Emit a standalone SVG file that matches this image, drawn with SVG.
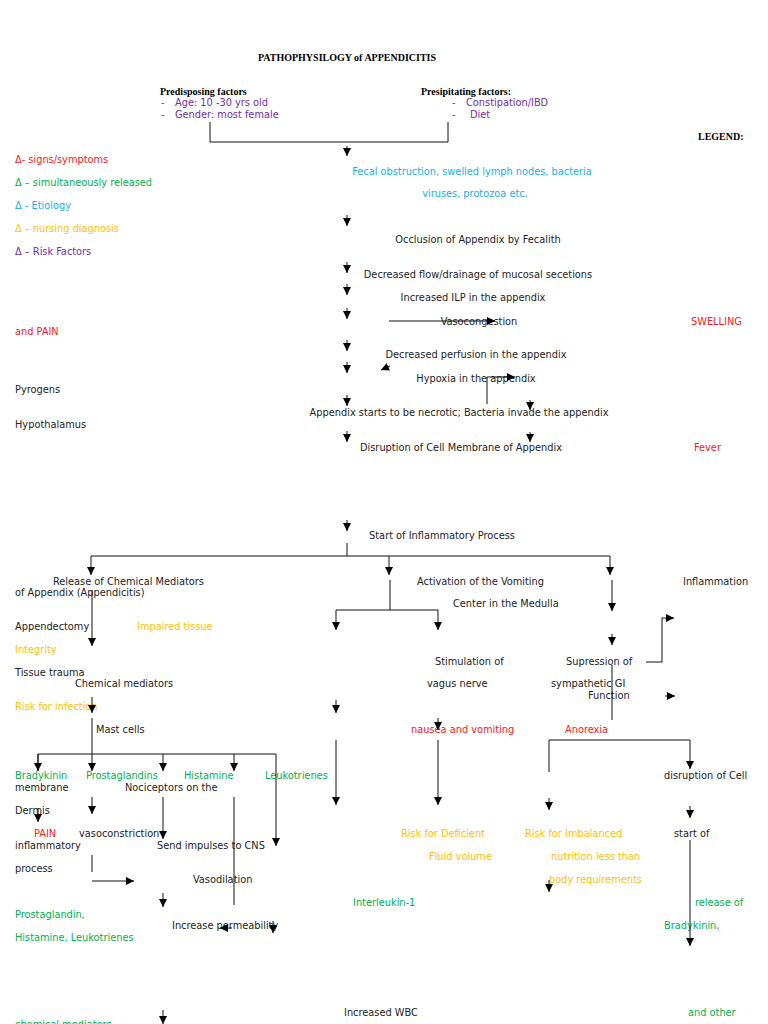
<svg xmlns="http://www.w3.org/2000/svg" width="768" height="1024" viewBox="0 0 768 1024">
<style>
text{font-family:"DejaVu Sans Condensed","DejaVu Sans",sans-serif;font-size:10.9px;fill:#222}
.t{font-family:"Liberation Serif",serif;font-weight:bold;font-size:10px;fill:#000}
.r{fill:#ee2222}.g{fill:#00b050}.b{fill:#1aaee8}.y{fill:#ffc000}.p{fill:#7030a0}
.m{text-anchor:middle}
line,path.c{stroke:#111;stroke-width:1;fill:none}
</style>
<defs><marker id="a" viewBox="0 0 10 10" refX="10" refY="5" markerWidth="8" markerHeight="9" markerUnits="userSpaceOnUse" orient="auto"><path d="M0,0L10,5L0,10z" fill="#000"/></marker></defs>
<g id="header">
<text class="t m" x="347" y="61">PATHOPHYSILOGY of APPENDICITIS</text>
<text class="t" x="160" y="95">Predisposing factors</text>
<text class="p" x="161" y="106">-</text><text class="p" x="175" y="106">Age: 10 -30 yrs old</text>
<text class="p" x="161" y="118">-</text><text class="p" x="175" y="118">Gender: most female</text>
<text class="t" x="421" y="95">Presipitating factors:</text>
<text class="p" x="452" y="106">-</text><text class="p" x="466" y="106">Constipation/IBD</text>
<text class="p" x="452" y="118">-</text><text class="p" x="470" y="118">Diet</text>
<text class="t" x="698" y="140">LEGEND:</text>
</g>
<g id="legend">
<text class="r" x="15" y="163">Δ- signs/symptoms</text>
<text class="g" x="15" y="186">Δ – simultaneously released</text>
<text class="b" x="15" y="209">Δ - Etiology</text>
<text class="y" x="15" y="232">Δ – nursing diagnosis</text>
<text class="p" x="15" y="255">Δ – Risk Factors</text>
</g>
<g id="nodes">
<text class="b m" x="472" y="175">Fecal obstruction, swelled lymph nodes, bacteria</text>
<text class="b m" x="475" y="197">viruses, protozoa etc.</text>
<text class="m" x="478" y="243">Occlusion of Appendix by Fecalith</text>
<text class="m" x="478" y="278">Decreased flow/drainage of mucosal secetions</text>
<text class="m" x="473" y="301">Increased ILP in the appendix</text>
<text class="m" x="479" y="325">Vasocongestion</text>
<text class="r" x="691" y="325">SWELLING</text>
<text class="r" x="15" y="335">and PAIN</text>
<text class="m" x="476" y="358">Decreased perfusion in the appendix</text>
<text class="m" x="476" y="382">Hypoxia in the appendix</text>
<text x="15" y="393">Pyrogens</text>
<text class="m" x="459" y="416">Appendix starts to be necrotic; Bacteria invade the appendix</text>
<text x="15" y="428">Hypothalamus</text>
<text class="m" x="461" y="451">Disruption of Cell Membrane of Appendix</text>
<text class="r" x="694" y="451">Fever</text>
<text class="m" x="442" y="539">Start of Inflammatory Process</text>
<text x="53" y="585">Release of Chemical Mediators</text>
<text x="15" y="596">of Appendix (Appendicitis)</text>
<text x="417" y="585">Activation of the Vomiting</text>
<text x="453" y="607">Center in the Medulla</text>
<text x="683" y="585">Inflammation</text>
<text x="15" y="630">Appendectomy</text>
<text class="y" x="137" y="630">Impaired tissue</text>
<text class="y" x="15" y="653">Integrity</text>
<text x="435" y="665">Stimulation of</text>
<text x="566" y="665">Supression of</text>
<text x="15" y="676">Tissue trauma</text>
<text x="75" y="687">Chemical mediators</text>
<text x="427" y="687">vagus nerve</text>
<text x="551" y="687">sympathetic GI</text>
<text x="588" y="699">Function</text>
<text class="y" x="15" y="710">Risk for infection</text>
<text x="96" y="733">Mast cells</text>
<text class="r" x="411" y="733">nausea and vomiting</text>
<text class="r" x="565" y="733">Anorexia</text>
<text class="g" x="15" y="779">Bradykinin</text>
<text class="g" x="86" y="779">Prostaglandins</text>
<text class="g" x="184" y="779">Histamine</text>
<text class="g" x="265" y="779">Leukotrienes</text>
<text x="664" y="779">disruption of Cell</text>
<text x="15" y="791">membrane</text>
<text x="125" y="791">Nociceptors on the</text>
<text x="15" y="814">Dermis</text>
<text class="r" x="34" y="837">PAIN</text>
<text x="79" y="837">vasoconstriction</text>
<text class="y" x="401" y="837">Risk for Deficient</text>
<text class="y" x="525" y="837">Risk for Imbalanced</text>
<text x="674" y="837">start of</text>
<text x="15" y="849">inflammatory</text>
<text x="157" y="849">Send impulses to CNS</text>
<text class="y" x="429" y="860">Fluid volume</text>
<text class="y" x="551" y="860">nutrition less than</text>
<text x="15" y="872">process</text>
<text x="193" y="883">Vasodilation</text>
<text class="y" x="549" y="883">body requirements</text>
<text class="g" x="353" y="906">Interleukin-1</text>
<text class="g" x="695" y="906">release of</text>
<text class="g" x="15" y="918">Prostaglandin,</text>
<text x="172" y="929">Increase permeability</text>
<text class="g" x="664" y="929">Bradykinin,</text>
<text class="g" x="15" y="941">Histamine, Leukotrienes</text>
<text x="344" y="1016">Increased WBC</text>
<text class="g" x="688" y="1016">and other</text>
<text class="g" x="15" y="1028">chemical mediators</text>
</g>
<g id="connectors">
<path class="c" d="M210,122V142H448V122"/>
<line x1="347" y1="146" x2="347" y2="156" marker-end="url(#a)"/>
<line x1="347" y1="215" x2="347" y2="226" marker-end="url(#a)"/>
<line x1="347" y1="262" x2="347" y2="273" marker-end="url(#a)"/>
<line x1="347" y1="284" x2="347" y2="295" marker-end="url(#a)"/>
<line x1="347" y1="308" x2="347" y2="319" marker-end="url(#a)"/>
<line x1="347" y1="340" x2="347" y2="351" marker-end="url(#a)"/>
<line x1="347" y1="362" x2="347" y2="373" marker-end="url(#a)"/>
<line x1="347" y1="395" x2="347" y2="406" marker-end="url(#a)"/>
<line x1="347" y1="431" x2="347" y2="442" marker-end="url(#a)"/>
<line x1="389" y1="321" x2="495" y2="321" marker-end="url(#a)"/>
<line x1="390" y1="366" x2="381" y2="370" marker-end="url(#a)"/>
<path class="c" d="M487,404V377H515" marker-end="url(#a)"/>
<line x1="530" y1="400" x2="530" y2="410" marker-end="url(#a)"/>
<line x1="530" y1="432" x2="530" y2="442" marker-end="url(#a)"/>
<line x1="347" y1="520" x2="347" y2="531" marker-end="url(#a)"/>
<path class="c" d="M347,543V556"/>
<path class="c" d="M91,556H610V575" marker-end="url(#a)"/>
<path class="c" d="M91,556V575" marker-end="url(#a)"/>
<line x1="389" y1="556" x2="389" y2="575" marker-end="url(#a)"/>
<line x1="92" y1="590" x2="92" y2="646" marker-end="url(#a)"/>
<path class="c" d="M390,580V610H336V630" marker-end="url(#a)"/>
<path class="c" d="M390,610H438V630" marker-end="url(#a)"/>
<line x1="612" y1="580" x2="612" y2="611" marker-end="url(#a)"/>
<line x1="612" y1="634" x2="612" y2="645" marker-end="url(#a)"/>
<path class="c" d="M646,662H662V618H674" marker-end="url(#a)"/>
<path class="c" d="M612,665V720"/>
<line x1="665" y1="696" x2="675" y2="696" marker-end="url(#a)"/>
<line x1="92" y1="697" x2="92" y2="713" marker-end="url(#a)"/>
<line x1="336" y1="700" x2="336" y2="713" marker-end="url(#a)"/>
<line x1="438" y1="718" x2="438" y2="730" marker-end="url(#a)"/>
<line x1="92" y1="718" x2="92" y2="771" marker-end="url(#a)"/>
<path class="c" d="M38,771V754H276V846" marker-end="url(#a)"/>
<line x1="38" y1="754" x2="38" y2="771" marker-end="url(#a)"/>
<line x1="163" y1="754" x2="163" y2="771" marker-end="url(#a)"/>
<line x1="234" y1="754" x2="234" y2="771" marker-end="url(#a)"/>
<line x1="336" y1="740" x2="336" y2="805" marker-end="url(#a)"/>
<line x1="438" y1="740" x2="438" y2="805" marker-end="url(#a)"/>
<path class="c" d="M549,772V740H690V769" marker-end="url(#a)"/>
<line x1="549" y1="798" x2="549" y2="810" marker-end="url(#a)"/>
<line x1="690" y1="806" x2="690" y2="818" marker-end="url(#a)"/>
<line x1="690" y1="840" x2="690" y2="946" marker-end="url(#a)"/>
<line x1="549" y1="880" x2="549" y2="892" marker-end="url(#a)"/>
<line x1="38" y1="808" x2="38" y2="822" marker-end="url(#a)"/>
<line x1="92" y1="797" x2="92" y2="814" marker-end="url(#a)"/>
<line x1="163" y1="797" x2="163" y2="839" marker-end="url(#a)"/>
<path class="c" d="M234,797V905"/>
<path class="c" d="M92,855V872"/>
<line x1="92" y1="881" x2="134" y2="881" marker-end="url(#a)"/>
<line x1="163" y1="893" x2="163" y2="907" marker-end="url(#a)"/>
<line x1="232" y1="928" x2="220" y2="928" marker-end="url(#a)"/>
<line x1="273" y1="921" x2="273" y2="933" marker-end="url(#a)"/>
<line x1="163" y1="1010" x2="163" y2="1024" marker-end="url(#a)"/>
</g>
</svg>
